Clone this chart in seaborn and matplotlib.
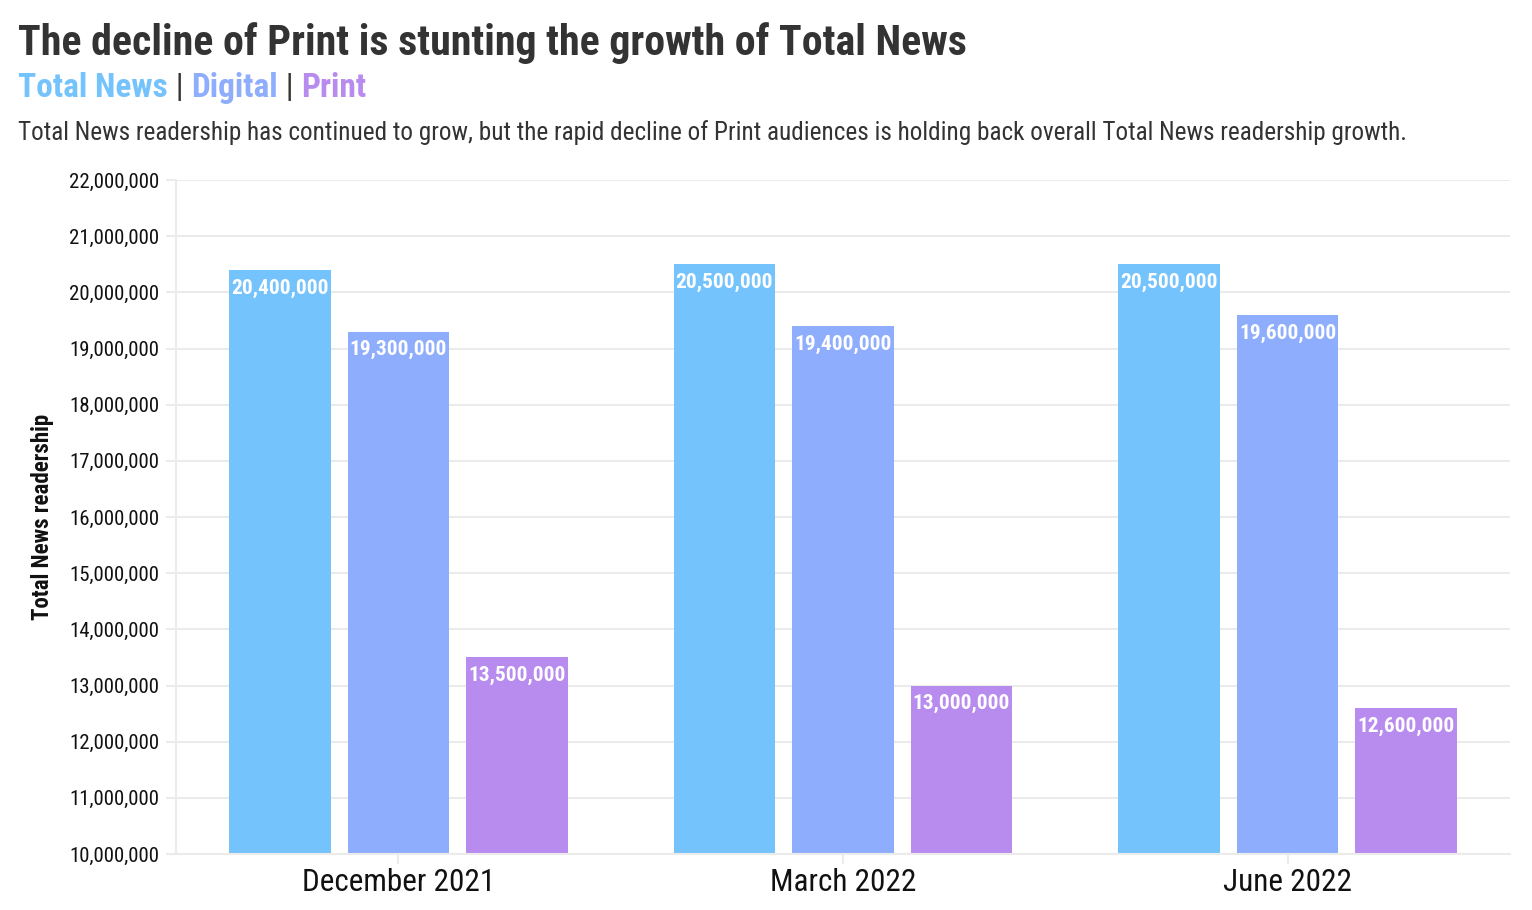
import numpy as np
import pandas as pd
import matplotlib
matplotlib.use("Agg")
import matplotlib.pyplot as plt
import seaborn as sns

# data
months = ["December 2021", "March 2022", "June 2022"]
series = ["Total News", "Digital", "Print"]
total_news = [20400000, 20500000, 20500000]
digital = [19300000, 19400000, 19600000]
printed = [13500000, 13000000, 12600000]
y_ticks = list(range(10000000, 22000001, 1000000))

colors = {"Total News": "#75C3FD", "Digital": "#8FADFD", "Print": "#B88BEE"}
dark = "#333333"

df = pd.DataFrame({
    "Month": months * 3,
    "Series": ["Total News"] * 3 + ["Digital"] * 3 + ["Print"] * 3,
    "Readers": total_news + digital + printed,
})

sns.set_theme(style="white")
plt.rcParams["font.family"] = ["Roboto Condensed", "Roboto", "DejaVu Sans"]

fig = plt.figure(figsize=(15.32, 9.10), dpi=100)
ax = fig.add_axes([0.1149, 0.0615, 0.8707, 0.7407])

sns.barplot(data=df, x="Month", y="Readers", hue="Series", order=months,
            hue_order=series, palette=colors, width=0.8, gap=0.144,
            saturation=1, edgecolor="none", legend=False, ax=ax)

ax.set_ylim(10000000, 22000000)
ax.set_xlim(-0.5, 2.5)
ax.set_yticks(y_ticks)
ax.set_yticklabels([f"{v:,}" for v in y_ticks], fontsize=15, color="#111111")
ax.tick_params(axis="y", length=7, color="#EBEBEB", width=1.5, pad=5, left=True)
ax.tick_params(axis="x", length=7, color="#EBEBEB", width=1.5, labelsize=22.5,
               labelcolor="#111111", pad=3, bottom=True)
ax.yaxis.grid(True, color="#EBEBEB", linewidth=1.5)
ax.set_axisbelow(True)
for side in ["top", "right"]:
    ax.spines[side].set_visible(False)
for side in ["left", "bottom"]:
    ax.spines[side].set_color("#EBEBEB")
    ax.spines[side].set_linewidth(1.5)

ax.set_xlabel("")
ax.set_ylabel("Total News readership", fontsize=16.5, fontweight="bold",
              color="#111111", labelpad=11)

# value labels inside the top of each bar
for cont in ax.containers:
    ax.bar_label(cont, labels=[f"{int(b.get_height()):,}" for b in cont],
                 padding=-20, color="white", fontsize=15.4, fontweight="bold")

# titles
fig.text(0.012, 0.953, "The decline of Print is stunting the growth of Total News",
         fontsize=30.2, fontweight="bold", color=dark, va="center")

t = fig.text(0.012, 0.903, "Total News", fontsize=24, fontweight="bold",
             color=colors["Total News"], va="center")
parts = [(" | ", dark, "normal"), ("Digital", colors["Digital"], "bold"),
         (" | ", dark, "normal"), ("Print", colors["Print"], "bold")]
for txt, col, w in parts:
    t = ax.annotate(txt, xycoords=t, xy=(1, 0), va="bottom", fontsize=24,
                    fontweight=w, color=col)

fig.text(0.012, 0.854,
         "Total News readership has continued to grow, but the rapid decline of Print "
         "audiences is holding back overall Total News readership growth.",
         fontsize=18.2, color=dark, va="center")

plt.savefig("out.png", dpi=100)
